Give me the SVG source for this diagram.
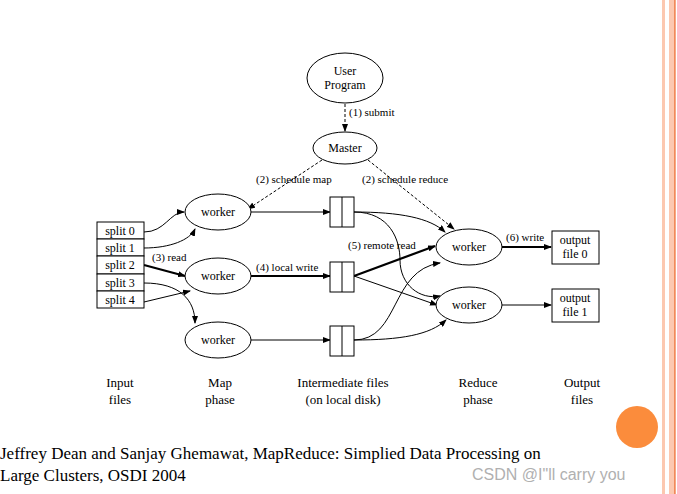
<svg xmlns="http://www.w3.org/2000/svg" width="677" height="494" viewBox="0 0 677 494">
<style>
text{font-family:"Liberation Serif","DejaVu Serif",serif;fill:#000}
.n{font-size:12px;text-anchor:middle}
.l{font-size:11px}
.c{font-size:13px;text-anchor:middle}
ellipse,rect.b{fill:#fff;stroke:#000;stroke-width:1}
.e path{fill:none;stroke:#000;stroke-width:1}
.e .t{stroke-width:2.2}
.e .d{stroke-dasharray:3,2}
</style>
<defs>
<marker id="a" markerWidth="8" markerHeight="6" refX="7" refY="3" orient="auto" markerUnits="userSpaceOnUse"><path d="M0,0L8,3L0,6z" fill="#000"/></marker>
</defs>
<rect width="677" height="494" fill="#fff"/>
<rect x="662" y="0" width="3" height="494" fill="#fcc8b0"/>
<rect x="669" y="0" width="7" height="494" fill="#fcc8b0"/>
<rect x="674" y="0" width="1.5" height="494" fill="#f08a5a"/>
<g class="e" marker-end="url(#a)">
<path class="d" d="M345,104L345,131"/>
<path class="d" d="M322,160L248,209"/>
<path class="d" d="M368,160L454,229"/>
<path d="M144,232C165,232 170,212 184,212"/>
<path d="M144,248C170,248 190,240 195,229"/>
<path class="t" d="M144,265L185,276"/>
<path d="M144,302L190,291"/>
<path d="M144,283C180,283 195,300 195,323"/>
<path d="M251,212L330,212"/>
<path class="t" d="M251,276L330,276"/>
<path d="M251,340L330,340"/>
<path d="M354,212C400,212 430,218 445,232"/>
<path d="M354,212C390,212 400,240 400,260C400,285 420,300 440,296"/>
<path class="t" d="M354,276L435,246"/>
<path d="M354,276L437,305"/>
<path d="M354,340C400,340 390,270 440,263"/>
<path d="M354,340C400,340 430,335 446,320"/>
<path class="t" d="M502,247L551,247"/>
<path d="M502,305L551,305"/>
</g>
<g id="user"><ellipse cx="345" cy="78" rx="38" ry="25"/><text class="n" x="345" y="75">User</text><text class="n" x="345" y="89">Program</text></g>
<g id="master"><ellipse cx="345" cy="148" rx="32" ry="16"/><text class="n" x="345" y="152">Master</text></g>
<g id="w1"><ellipse cx="218" cy="212" rx="33" ry="18"/><text class="n" x="218" y="216">worker</text></g>
<g id="w2"><ellipse cx="218" cy="276" rx="33" ry="18"/><text class="n" x="218" y="280">worker</text></g>
<g id="w3"><ellipse cx="218" cy="340" rx="33" ry="18"/><text class="n" x="218" y="344">worker</text></g>
<g id="splits">
<rect class="b" x="97" y="222" width="47" height="17"/><text class="n" x="120" y="235">split 0</text>
<rect class="b" x="97" y="239" width="47" height="17"/><text class="n" x="120" y="252">split 1</text>
<rect class="b" x="97" y="256" width="47" height="18"/><text class="n" x="120" y="269">split 2</text>
<rect class="b" x="97" y="274" width="47" height="17"/><text class="n" x="120" y="287">split 3</text>
<rect class="b" x="97" y="291" width="47" height="17"/><text class="n" x="120" y="304">split 4</text>
</g>
<g id="i1"><rect class="b" x="330" y="197" width="24" height="30"/><path d="M342,197V227" stroke="#000"/></g>
<g id="i2"><rect class="b" x="330" y="262" width="24" height="30"/><path d="M342,262V292" stroke="#000"/></g>
<g id="i3"><rect class="b" x="330" y="326" width="24" height="30"/><path d="M342,326V356" stroke="#000"/></g>
<g id="r1"><ellipse cx="469" cy="247" rx="33" ry="18"/><text class="n" x="469" y="251">worker</text></g>
<g id="r2"><ellipse cx="469" cy="305" rx="33" ry="18"/><text class="n" x="469" y="309">worker</text></g>
<g id="o0"><rect class="b" x="552" y="231" width="47" height="33"/><text class="n" x="575" y="244">output</text><text class="n" x="575" y="258">file 0</text></g>
<g id="o1"><rect class="b" x="552" y="289" width="47" height="33"/><text class="n" x="575" y="302">output</text><text class="n" x="575" y="316">file 1</text></g>
<g id="labels">
<text class="l" x="349" y="116">(1) submit</text>
<text class="l" x="256" y="183">(2) schedule map</text>
<text class="l" x="362" y="183">(2) schedule reduce</text>
<text class="l" x="152" y="261">(3) read</text>
<text class="l" x="256" y="271">(4) local write</text>
<text class="l" x="348" y="249">(5) remote read</text>
<text class="l" x="506" y="241">(6) write</text>
<text class="c" x="120" y="387">Input</text><text class="c" x="120" y="404">files</text>
<text class="c" x="220" y="387">Map</text><text class="c" x="220" y="404">phase</text>
<text class="c" x="343" y="387">Intermediate files</text><text class="c" x="343" y="404">(on local disk)</text>
<text class="c" x="478" y="387">Reduce</text><text class="c" x="478" y="404">phase</text>
<text class="c" x="582" y="387">Output</text><text class="c" x="582" y="404">files</text>
<text x="0" y="459" style="font-size:17px">Jeffrey Dean and Sanjay Ghemawat, MapReduce: Simplied Data Processing on</text>
<text x="0" y="481" style="font-size:17px">Large Clusters, OSDI 2004</text>
<text x="472" y="480" style="font-family:'Liberation Sans',sans-serif;font-size:16px;fill:#b0b0b0">CSDN @I"ll  carry  you</text>
</g>
<ellipse cx="637" cy="427" rx="21" ry="21" style="fill:#fb8c3c;stroke:none"/>
</svg>
